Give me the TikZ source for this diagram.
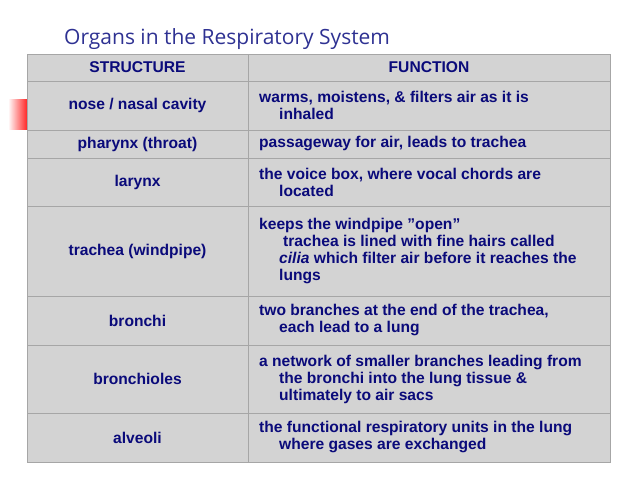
\documentclass[tikz,border=0pt]{standalone}
\usepackage{fontspec}
\setmainfont{Liberation Sans}
\newfontfamily\titlefont{Open Sans}
\usetikzlibrary{positioning}
\definecolor{navy}{HTML}{0A0A7A}
\definecolor{cellgray}{HTML}{D3D3D3}
\definecolor{titleblue}{HTML}{2E3192}
\begin{document}
\begin{tikzpicture}[x=1pt,y=-1pt,
  cell/.style={draw=gray!70,line width=0.8pt,fill=cellgray,inner sep=0pt,outer sep=0pt},
  txt/.style={text=navy,font=\bfseries\fontsize{15.6}{17}\selectfont,inner sep=0pt},
  ltxt/.style={txt,align=left,anchor=west}]
\useasboundingbox (0,0) rectangle (638,478);
\shade[left color=white,right color=red!85] (8,100) rectangle (27,130);
\node[anchor=west,text=titleblue,font=\titlefont\fontsize{21}{24}\selectfont,inner sep=0pt] (title) at (64,39) {Organs in the Respiratory System};
\foreach \a/\b [count=\i] in {54/81,81/130,130/158,158/206,206/296,296/345,345/413,413/462}{
  \draw[cell] (27,\a) rectangle (248,\b);
  \draw[cell] (248,\a) rectangle (610,\b);
}
\node[txt] (h1) at (137.5,67.5) {STRUCTURE};
\node[txt] (h2) at (429,67.5) {FUNCTION};
\node[txt] (s1) at (137.5,105.5) {nose / nasal cavity};
\node[txt] (s2) at (137.5,144) {pharynx (throat)};
\node[txt] (s3) at (137.5,182) {larynx};
\node[txt] (s4) at (137.5,251) {trachea (windpipe)};
\node[txt] (s5) at (137.5,320.5) {bronchi};
\node[txt] (s6) at (137.5,379) {bronchioles};
\node[txt] (s7) at (137.5,437.5) {alveoli};
\node[ltxt] (f1) at (259,105.5) {warms, moistens, \& filters air as it is\\\hspace*{20pt}inhaled};
\node[ltxt] (f2) at (259,144) {passageway for air, leads to trachea};
\node[ltxt] (f3) at (259,182) {the voice box, where vocal chords are\\\hspace*{20pt}located};
\node[ltxt] (f4) at (259,251) {keeps the windpipe \char34open\char34\\\hspace*{24pt}trachea is lined with fine hairs called\\\hspace*{20pt}\textit{cilia} which filter air before it reaches the\\\hspace*{20pt}lungs};
\node[ltxt] (f5) at (259,320.5) {two branches at the end of the trachea,\\\hspace*{20pt}each lead to a lung};
\node[ltxt] (f6) at (259,379) {a network of smaller branches leading from\\\hspace*{20pt}the bronchi into the lung tissue \&\\\hspace*{20pt}ultimately to air sacs};
\node[ltxt] (f7) at (259,437.5) {the functional respiratory units in the lung\\\hspace*{20pt}where gases are exchanged};
\end{tikzpicture}
\end{document}
